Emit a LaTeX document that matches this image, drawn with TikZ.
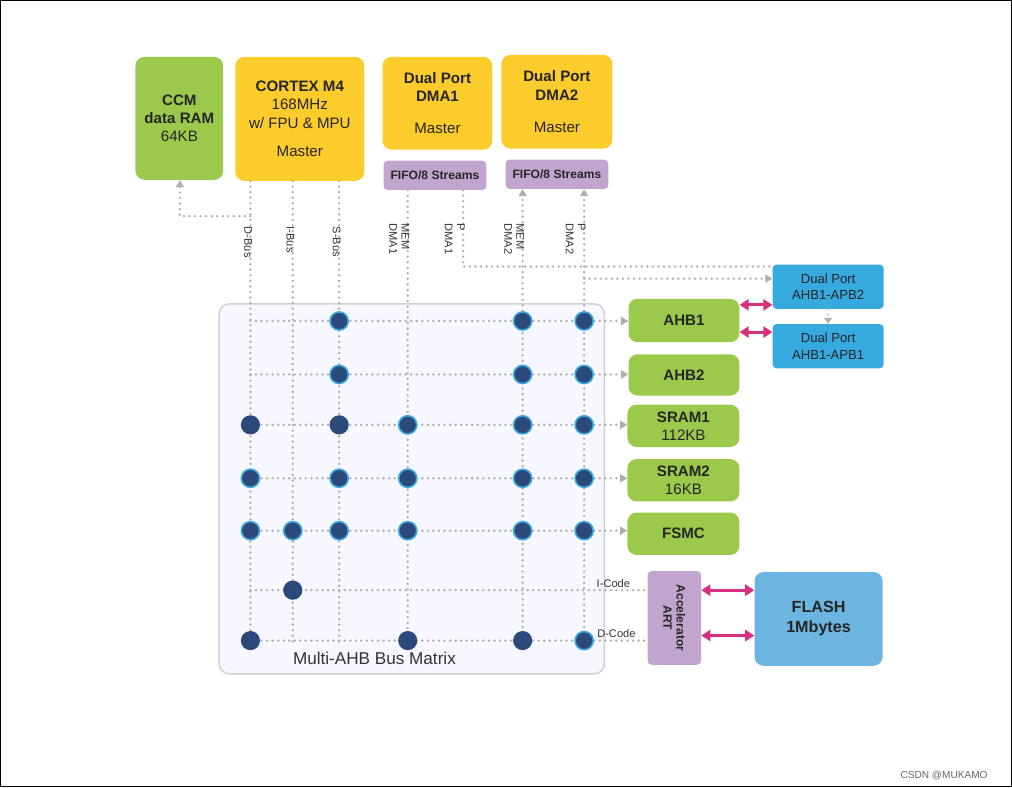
\documentclass[tikz,border=0pt]{standalone}
\usepackage{fontspec}
\setmainfont{Liberation Sans}
\usetikzlibrary{arrows.meta}
\definecolor{grn}{HTML}{9BC94B}
\definecolor{ylw}{HTML}{FCCB2C}
\definecolor{prp}{HTML}{C2A5CF}
\definecolor{blu}{HTML}{36A9DF}
\definecolor{lblu}{HTML}{6BB5E0}
\definecolor{pnk}{HTML}{D6307F}
\definecolor{dotc}{HTML}{2B4A7B}
\definecolor{ring}{HTML}{3AA8DF}
\definecolor{bus}{HTML}{AEAEAE}
\begin{document}
\begin{tikzpicture}[x=1pt,y=-1pt,
  box/.style={rounded corners=9pt, inner sep=0pt, align=center, text=black!85, font=\fontsize{15}{18}\selectfont},
  sbox/.style={rounded corners=4pt, inner sep=0pt, align=center, text=black!85, font=\fontsize{12}{14}\selectfont},
  bus/.style={draw=bus, line width=2.6pt, line cap=round, dash pattern=on 0pt off 5.5pt},
  tip/.style={-{Triangle[length=7pt,width=8pt]}},
  pk/.style={{Triangle[length=9pt,width=11pt]}-{Triangle[length=9pt,width=11pt]}, draw=pnk, line width=3pt},
  lbl/.style={font=\fontsize{11}{12}\selectfont, rotate=-90, align=left, text=black!80, anchor=north west},
  dr/.style={circle, fill=dotc, draw=ring, line width=1.6pt, minimum size=18pt, inner sep=0pt},
  dp/.style={circle, fill=dotc, minimum size=19pt, inner sep=0pt}
]
\draw[line width=0.8pt] (4,4) rectangle (1007,784);
% bus matrix background
\draw[fill=blue!3, draw=black!18, line width=1.5pt, rounded corners=10pt] (221,305) rectangle (603,672);
\node[font=\fontsize{17}{20}\selectfont, text=black!80] (mx) at (375,657) {Multi-AHB Bus Matrix};

% masters
\node[box, fill=grn, minimum width=87pt, minimum height=122pt] (ccm) at (181.5,121) {\textbf{CCM}\\\textbf{data RAM}\\64KB};
\node[box, fill=ylw, minimum width=128pt, minimum height=123pt] (cpu) at (301,121.5) {\textbf{CORTEX M4}\\168MHz\\w/ FPU \& MPU\\[10pt]Master};
\node[box, fill=ylw, minimum width=109pt, minimum height=92pt] (dma1) at (437.5,106) {\textbf{Dual Port}\\\textbf{DMA1}\\[14pt]Master};
\node[box, fill=ylw, minimum width=110pt, minimum height=93pt] (dma2) at (556,104.5) {\textbf{Dual Port}\\\textbf{DMA2}\\[14pt]Master};
\node[sbox, fill=prp, minimum width=102pt, minimum height=29pt] (ff1) at (435,177.5) {\textbf{FIFO/8 Streams}};
\node[sbox, fill=prp, minimum width=102pt, minimum height=29pt] (ff2) at (556,176.5) {\textbf{FIFO/8 Streams}};

% slaves
\node[box, fill=grn, minimum width=110pt, minimum height=43pt] (ahb1) at (682,321.5) {\textbf{AHB1}};
\node[box, fill=grn, minimum width=110pt, minimum height=41pt] (ahb2) at (682,375.5) {\textbf{AHB2}};
\node[box, fill=grn, minimum width=111pt, minimum height=42pt] (sr1) at (681.5,426) {\textbf{SRAM1}\\112KB};
\node[box, fill=grn, minimum width=111pt, minimum height=42pt] (sr2) at (681.5,480) {\textbf{SRAM2}\\16KB};
\node[box, fill=grn, minimum width=111pt, minimum height=42pt] (fsmc) at (681.5,533) {\textbf{FSMC}};
\node[sbox, fill=blu, minimum width=110pt, minimum height=44pt, font=\fontsize{13}{16}\selectfont] (apb2) at (825,288) {Dual Port\\AHB1-APB2};
\node[sbox, fill=blu, minimum width=110pt, minimum height=44pt, font=\fontsize{13}{16}\selectfont] (apb1) at (825,347) {Dual Port\\AHB1-APB1};
\node[sbox, fill=prp, minimum width=53pt, minimum height=93pt] (art) at (672.5,616.5) {};
\node[rotate=-90, align=center, font=\bfseries\fontsize{12}{13}\selectfont, text=black!85] (artt) at (art.center) {Accelerator\\ART};
\node[box, fill=lblu, minimum width=127pt, minimum height=93pt, font=\bfseries\fontsize{16}{20}\selectfont] (fl) at (815.5,617.5) {FLASH\\1Mbytes};

% bus columns (top) and rows (left)
\coordinate (dT) at (252,192);  \coordinate (dB) at (252,642);
\coordinate (iT) at (294,192);  \coordinate (iB) at (294,642);
\coordinate (sT) at (340,192);  \coordinate (sB) at (340,642);
\coordinate (m1T) at (408,192); \coordinate (m1B) at (408,642);
\coordinate (p1T) at (463,192);
\coordinate (m2T) at (522,192); \coordinate (m2B) at (522,642);
\coordinate (p2T) at (583,192); \coordinate (p2B) at (583,642);
\coordinate (r1) at (252,322);
\coordinate (r2) at (252,375);
\coordinate (r3) at (252,425);
\coordinate (r4) at (252,478);
\coordinate (r5) at (252,530);
\coordinate (r6) at (252,589);
\coordinate (r7) at (252,639);

% master buses
\draw[bus] (cpu.south -| dT) -- (dB);
\draw[bus] (cpu.south -| iT) -- (iB);
\draw[bus] (cpu.south -| sT) -- (sB);
\draw[bus] (ff1.south -| m1T) -- (m1B);
\coordinate (ccmc) at (182,218);
\draw[bus, tip] (dT |- ccmc) -- (ccmc) -- (ccm.south -| ccmc);
\coordinate (pk1) at (463,268);
\draw[bus] (ff1.south -| pk1) -- (pk1) -- (apb2.west |- pk1);
\coordinate (pk2) at (583,280);
\draw[bus, tip] (pk2) -- (apb2.west |- pk2);
\draw[bus, tip] (m2B) -- (ff2.south -| m2B);
\draw[bus, tip] (p2B) -- (ff2.south -| p2B);

\node[lbl] (ld) at (257,225) {D-Bus};
\node[lbl] (li) at (299,225) {I-Bus};
\node[lbl] (ls) at (345,225) {S-Bus};
\node[lbl] (lm1) at (413,222) {MEM\\DMA1};
\node[lbl] (lp1) at (468,222) {P\\DMA1};
\node[lbl] (lm2) at (527,222) {MEM\\DMA2};
\node[lbl] (lp2) at (588,222) {P\\DMA2};

% slave rows
\draw[bus, tip] (r1) -- (ahb1.west |- r1);
\draw[bus, tip] (r2) -- (ahb2.west |- r2);
\draw[bus, tip] (r3) -- (sr1.west |- r3);
\draw[bus, tip] (r4) -- (sr2.west |- r4);
\draw[bus, tip] (r5) -- (fsmc.west |- r5);
\draw[bus] (r6) -- (art.west |- r6);
\draw[bus] (r7) -- (art.west |- r7);
\node[font=\fontsize{11}{12}\selectfont, text=black!80] (ic) at (612,582) {I-Code};
\node[font=\fontsize{11}{12}\selectfont, text=black!80] (dc) at (615,632) {D-Code};

% crossing points
\foreach \c/\r in {sT/r1, m2T/r1, p2T/r1, sT/r2, m2T/r2, p2T/r2, m1T/r3, m2T/r3, p2T/r3,
  dT/r4, sT/r4, m1T/r4, m2T/r4, p2T/r4, dT/r5, iT/r5, sT/r5, m1T/r5, m2T/r5, p2T/r5, p2T/r7}
  \node[dr] at (\c |- \r) {};
\foreach \c/\r in {dT/r3, sT/r3, iT/r6, dT/r7, m1T/r7, m2T/r7}
  \node[dp] at (\c |- \r) {};

% pink links
\coordinate (a1) at (0,306); \coordinate (a2) at (0,333);
\draw[pk] (ahb1.east |- a1) -- (apb2.west |- a1);
\draw[pk] (ahb1.east |- a2) -- (apb1.west |- a2);
\coordinate (f1) at (0,589); \coordinate (f2) at (0,634);
\draw[pk] (art.east |- f1) -- (fl.west |- f1);
\draw[pk] (art.east |- f2) -- (fl.west |- f2);
\draw[bus, line width=2pt, -{Triangle[length=6pt,width=8pt]}] (apb2.south) -- (apb1.north);

\node[font=\fontsize{10}{12}\selectfont, text=black!60] (wm) at (940,773) {CSDN @MUKAMO};
\end{tikzpicture}
\end{document}
